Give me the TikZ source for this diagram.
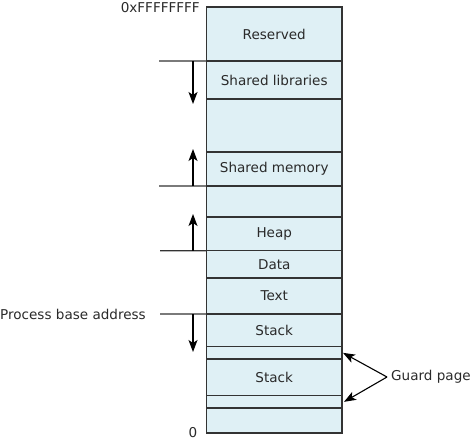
\documentclass[tikz,border=0pt]{standalone}
\usepackage{fontspec}
\setmainfont{DejaVu Sans}
\usetikzlibrary{arrows.meta}
\definecolor{segfill}{HTML}{DFF0F5}
\definecolor{lineclr}{HTML}{333333}
\definecolor{txtclr}{HTML}{2A2A2A}
\tikzset{
  seg/.style={draw=lineclr, fill=segfill, line width=1.3bp, rectangle, inner sep=0pt, outer sep=0pt, minimum width=135.5bp, font=\fontsize{13.6}{16}\selectfont, text=txtclr},
  lbl/.style={inner sep=0pt, font=\fontsize{13.6}{16}\selectfont, text=txtclr},
  tick/.style={draw=lineclr, line width=1.3bp},
  growarrow/.style={draw=black, line width=1.1bp, -{Stealth[length=12bp,width=9bp,inset=3bp]}},
}
\begin{document}
\begin{tikzpicture}[x=1bp,y=-1bp]
\useasboundingbox (0,0) rectangle (474,443);
\def\cx{274.25}
% segments: center y, height
\node[seg, minimum height=54bp]   (res)    at (\cx,34)     {Reserved};
\node[seg, minimum height=38bp]   (shl)    at (\cx,80)     {Shared libraries};
\node[seg, minimum height=53bp]   (gapa)   at (\cx,125.5)  {};
\node[seg, minimum height=34bp]   (shm)    at (\cx,169)    {Shared memory};
\node[seg, minimum height=31bp]   (gapb)   at (\cx,201.5)  {};
\node[seg, minimum height=33.7bp] (heap)   at (\cx,233.85) {Heap};
\node[seg, minimum height=27.3bp] (data)   at (\cx,264.35) {Data};
\node[seg, minimum height=36bp]   (text)   at (\cx,296)    {Text};
\node[seg, minimum height=32.7bp] (stka)   at (\cx,330.35) {Stack};
\node[seg, minimum height=12.3bp] (guarda) at (\cx,352.85) {};
\node[seg, minimum height=36.7bp] (stkb)   at (\cx,377.35) {Stack};
\node[seg, minimum height=12.3bp] (guardb) at (\cx,401.85) {};
\node[seg, minimum height=25bp]   (bot)    at (\cx,420.5)  {};

% address labels
\node[lbl, anchor=east] (top) at (200,8) {0xFFFFFFFF};
\node[lbl] (zero) at (193,433) {0};
\node[lbl, anchor=west] (pba) at (0,314) {Process base address};
\node[lbl, anchor=west] (gp) at (391,377) {Guard page};

% tick coordinates
\coordinate (t1) at (159,61);
\coordinate (t2) at (159,186);
\coordinate (t3) at (160,250.7);
\coordinate (t4) at (160,314);
\draw[tick] (t1) -- (res.south west);
\draw[tick] (t2) -- (shm.south west);
\draw[tick] (t3) -- (heap.south west);
\draw[tick] (t4) -- (text.south west);

% growth arrows
\coordinate (a1s) at (193,61);   \coordinate (a1e) at (193,104);
\coordinate (a2s) at (193,186);  \coordinate (a2e) at (193,149);
\coordinate (a3s) at (193,250.7);\coordinate (a3e) at (193,214);
\coordinate (a4s) at (193,314);  \coordinate (a4e) at (193,352);
\draw[growarrow] (a1s) -- (a1e);
\draw[growarrow] (a2s) -- (a2e);
\draw[growarrow] (a3s) -- (a3e);
\draw[growarrow] (a4s) -- (a4e);

% guard page arrows
\coordinate (gpo) at (387,377);
\draw[growarrow] (gpo) -- ([xshift=1bp]guarda.east);
\draw[growarrow] (gpo) -- ([xshift=2bp]guardb.east);
\end{tikzpicture}
\end{document}
